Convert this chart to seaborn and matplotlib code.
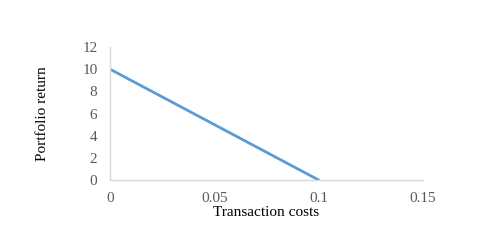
import matplotlib
matplotlib.use("Agg")
import matplotlib.pyplot as plt
import seaborn as sns
import pandas as pd

costs = [0.0, 0.1]
returns = [10.0, 0.0]
xticks = [0, 0.05, 0.1, 0.15]
xticklabels = ["0", "0.05", "0.1", "0.15"]
yticks = [0, 2, 4, 6, 8, 10, 12]

sns.set_style("white")
plt.rcParams['font.family'] = ['Liberation Serif', 'DejaVu Serif']

df = pd.DataFrame({"cost": costs, "ret": returns})
fig = plt.figure(figsize=(4.8, 2.43), dpi=100)
ax = fig.add_axes([110/480, 1-180/243, (423-110)/480, (180-47)/243])
sns.lineplot(data=df, x="cost", y="ret", ax=ax, color="#5B9BD5", linewidth=2)
ax.set_xlim(0, 0.15)
ax.set_ylim(0, 12)
ax.set_xticks(xticks)
ax.set_xticklabels(xticklabels)
ax.set_yticks(yticks)
ax.tick_params(axis='both', length=0, labelsize=11, labelcolor="#595959")
ax.tick_params(axis='y', pad=9)
ax.tick_params(axis='x', pad=9)
for s in ["top", "right"]:
    ax.spines[s].set_visible(False)
for s in ["left", "bottom"]:
    ax.spines[s].set_color("#D9D9D9")
    ax.spines[s].set_linewidth(1)
ax.set_xlabel("Transaction costs", fontsize=11, color="black", labelpad=0)
ax.set_ylabel("Portfolio return", fontsize=11, color="black", labelpad=24)
fig.savefig("out.png", dpi=100)
